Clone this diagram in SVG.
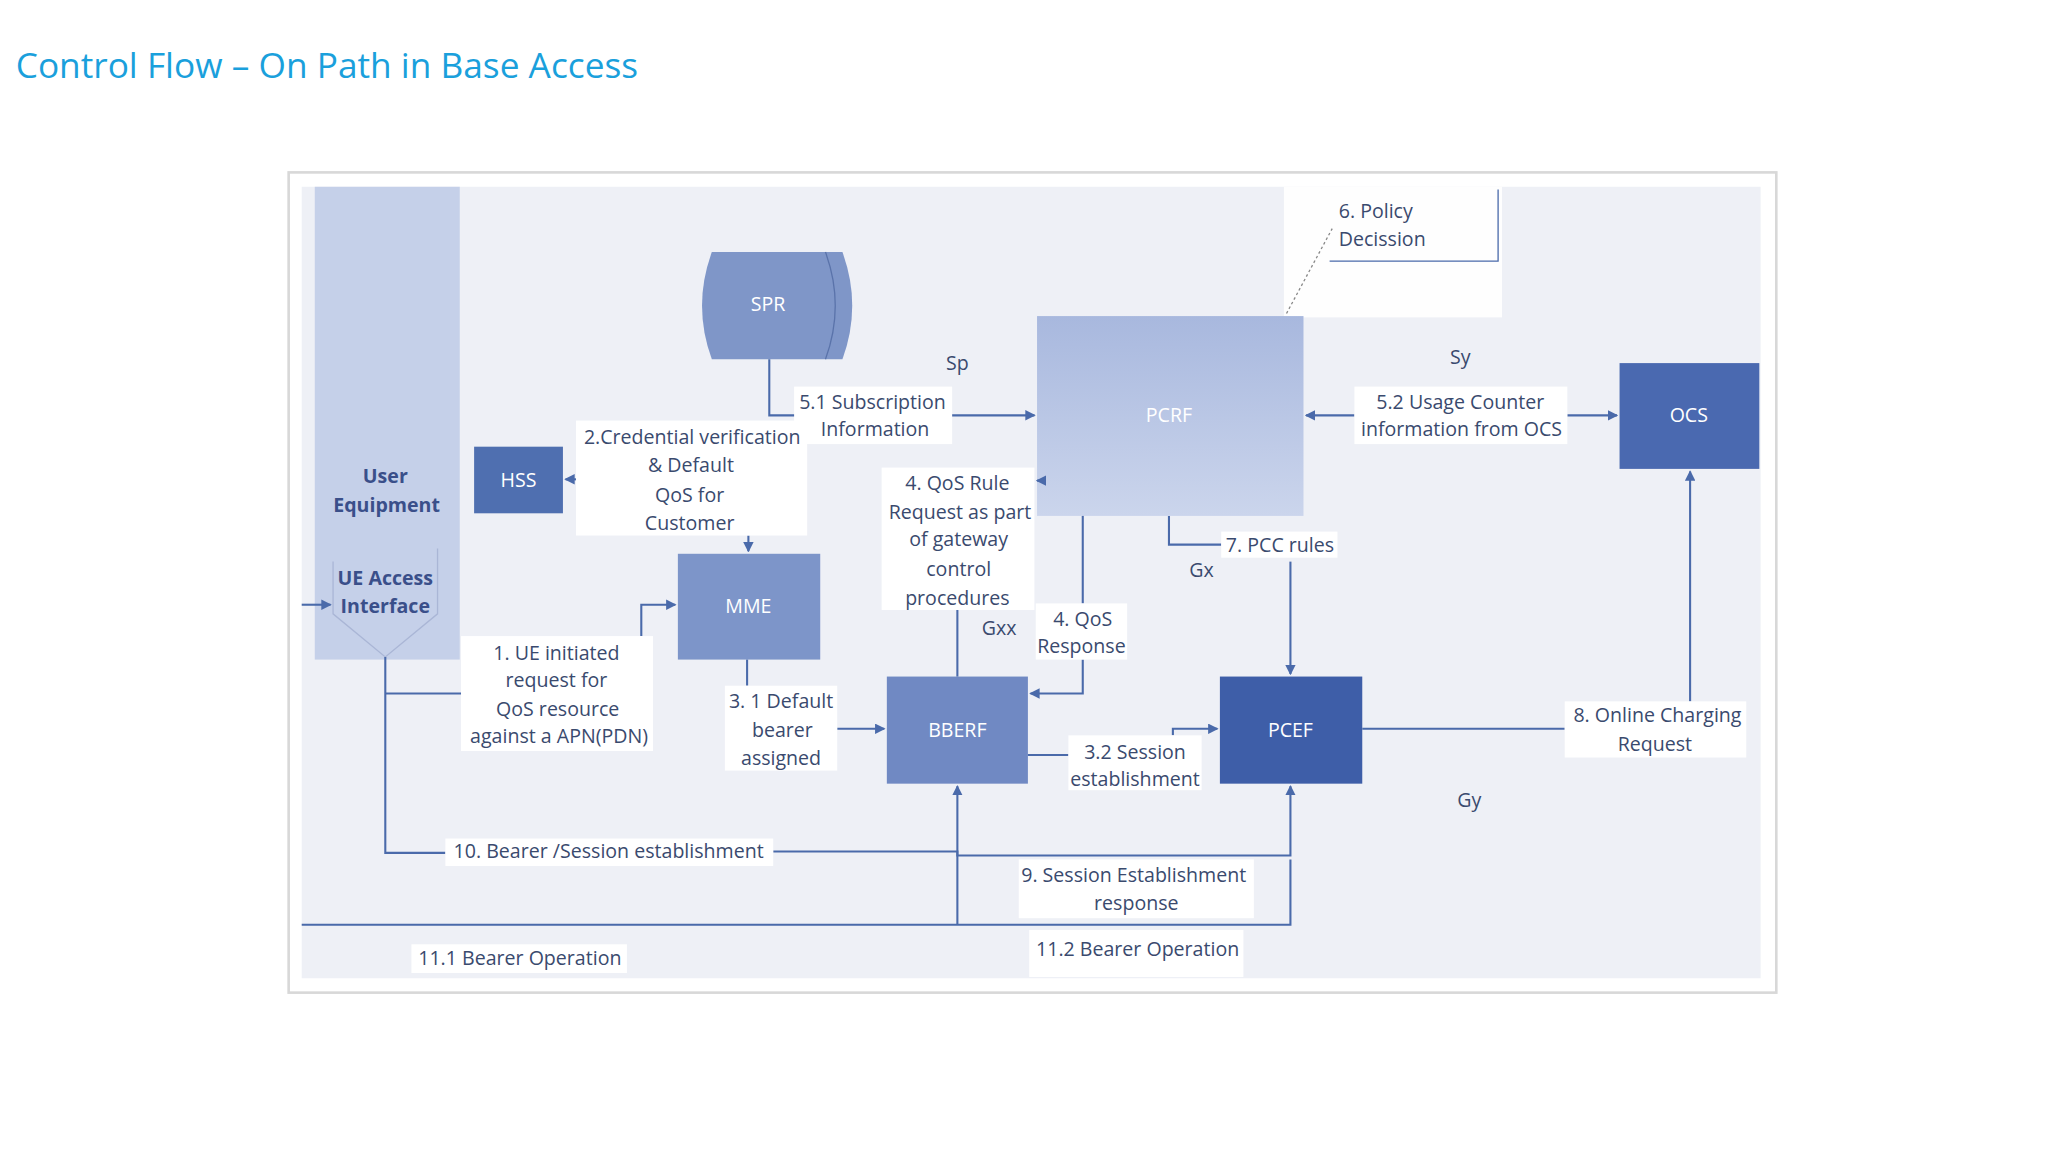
<svg xmlns="http://www.w3.org/2000/svg" width="2048" height="1152" viewBox="0 0 2048 1152">
<style>
text{font-family:"Open Sans","Liberation Sans",sans-serif;font-size:15px;fill:#3a4a6e;text-anchor:middle}
.n{fill:#fff;font-size:15px}
.c{stroke:#4a6aaa;stroke-width:1.6;fill:none}
.lb{fill:#fff}
</style>
<defs>
<marker id="a" markerWidth="8" markerHeight="8" refX="7" refY="4" orient="auto" markerUnits="userSpaceOnUse"><path d="M0,0L8,4L0,8z" fill="#4a6aaa"/></marker>
<linearGradient id="pg" x1="0" y1="0" x2="0" y2="1"><stop offset="0" stop-color="#a8b8de"/><stop offset="1" stop-color="#cbd5ec"/></linearGradient>
</defs>
<rect width="2048" height="1152" fill="#fff"/>
<g transform="scale(1.3061)">
<text x="12" y="60" style="font-size:27px;fill:#1aa0dc;text-anchor:start">Control Flow – On Path  in Base Access</text>
<rect x="221" y="132" width="1139" height="628" fill="#fff" stroke="#d8d8d8" stroke-width="2"/>
<rect x="231" y="143" width="1117" height="606" fill="#eef0f6"/>
<g id="ue"><rect x="241" y="143" width="111" height="362" fill="#c5d0e9"/>
<text x="295" y="370" style="font-weight:bold;fill:#3a4f8a">User</text><text x="296" y="392" style="font-weight:bold;fill:#3a4f8a">Equipment</text>
<path d="M255,430V470L295,503L335,470V420" fill="none" stroke="#aab6d6"/>
<text x="295" y="448" style="font-weight:bold;fill:#3a4f8a">UE Access</text><text x="295" y="469" style="font-weight:bold;fill:#3a4f8a">Interface</text></g>
<g id="policy"><rect x="983" y="143" width="167" height="100" fill="#fff" opacity="0.9"/>
<path d="M1018,200H1147V145" fill="none" stroke="#4a6aaa"/><path d="M985,240L1020,175" stroke="#888" stroke-dasharray="2,2"/>
<text x="1025" y="167" style="text-anchor:start">6. Policy</text><text x="1025" y="188" style="text-anchor:start">Decission</text></g>
<g id="spr"><path d="M545,193H645Q660,234 645,275H545Q530,234 545,193z" fill="#7f96c8"/><path d="M632,193Q647,234 632,275" fill="none" stroke="#5a73aa"/><text class="n" x="588" y="238">SPR</text></g>
<g id="pcrf"><rect x="794" y="242" width="204" height="153" fill="url(#pg)"/><text class="n" x="895" y="323">PCRF</text></g>
<g id="ocs"><rect x="1240" y="278" width="107" height="81" fill="#4a69b0"/><text class="n" x="1293" y="323">OCS</text></g>
<g id="hss"><rect x="363" y="342" width="68" height="51" fill="#4f6fb0"/><text class="n" x="397" y="373">HSS</text></g>
<g id="mme"><rect x="519" y="424" width="109" height="81" fill="#7d95c9"/><text class="n" x="573" y="469">MME</text></g>
<g id="bberf"><rect x="679" y="518" width="108" height="82" fill="#7089c3"/><text class="n" x="733" y="564">BBERF</text></g>
<g id="pcef"><rect x="934" y="518" width="109" height="82" fill="#3e5ea8"/><text class="n" x="988" y="564">PCEF</text></g>
<g id="connectors">
<path class="c" d="M589,275V318H792" marker-end="url(#a)"/>
<path class="c" d="M1200,318H1238" marker-end="url(#a)"/><path class="c" d="M1037,318H1000" marker-end="url(#a)"/>
<path class="c" d="M441,367H433" marker-end="url(#a)"/><path class="c" d="M573,410V422" marker-end="url(#a)"/>
<path class="c" d="M231,463H253" marker-end="url(#a)"/>
<path class="c" d="M295,503V653H341"/><path class="c" d="M295,531H353"/>
<path class="c" d="M491,487V463H517" marker-end="url(#a)"/>
<path class="c" d="M572,505V525"/><path class="c" d="M641,558H677" marker-end="url(#a)"/>
<path class="c" d="M733,518V467"/><path class="c" d="M796,368H794" marker-end="url(#a)"/>
<path class="c" d="M829,395V462"/><path class="c" d="M829,505V531H789" marker-end="url(#a)"/>
<path class="c" d="M895,395V417H935"/><path class="c" d="M988,430V516" marker-end="url(#a)"/>
<path class="c" d="M787,578H818"/><path class="c" d="M898,563V558H932" marker-end="url(#a)"/>
<path class="c" d="M1043,558H1198"/><path class="c" d="M1294,537V361" marker-end="url(#a)"/>
<path class="c" d="M592,652H733V655H988V602" marker-end="url(#a)"/>
<path class="c" d="M231,708H988V658"/><path class="c" d="M733,708V602" marker-end="url(#a)"/>
</g>
<g id="labels">
<rect class="lb" x="608" y="296" width="121" height="44"/><text x="668" y="313">5.1 Subscription</text><text x="670" y="334">Information</text>
<rect class="lb" x="1037" y="296" width="163" height="44"/><text x="1118" y="313">5.2 Usage Counter</text><text x="1119" y="334">information from OCS</text>
<rect class="lb" x="441" y="322" width="177" height="88"/><text x="530" y="340">2.Credential verification</text><text x="529" y="361">&amp; Default</text><text x="528" y="384">QoS for</text><text x="528" y="406">Customer</text>
<rect class="lb" x="675" y="358" width="117" height="109"/><text x="733" y="375">4. QoS Rule</text><text x="735" y="397">Request as part</text><text x="734" y="418">of gateway</text><text x="734" y="441">control</text><text x="733" y="463">procedures</text>
<rect class="lb" x="793" y="462" width="70" height="43"/><text x="829" y="479">4. QoS</text><text x="828" y="500">Response</text>
<rect class="lb" x="353" y="487" width="147" height="88"/><text x="426" y="505">1. UE initiated</text><text x="426" y="526">request for</text><text x="427" y="548">QoS resource</text><text x="428" y="569">against a APN(PDN)</text>
<rect class="lb" x="555" y="525" width="86" height="65"/><text x="598" y="542">3. 1 Default</text><text x="599" y="564">bearer</text><text x="598" y="586">assigned</text>
<rect class="lb" x="818" y="563" width="102" height="42"/><text x="869" y="581">3.2 Session</text><text x="869" y="602">establishment</text>
<rect class="lb" x="1198" y="537" width="139" height="43"/><text x="1269" y="553">8. Online  Charging</text><text x="1267" y="575">Request</text>
<rect class="lb" x="341" y="642" width="251" height="21"/><text x="466" y="657">10. Bearer /Session establishment</text>
<rect class="lb" x="780" y="658" width="180" height="45"/><text x="868" y="675">9. Session Establishment</text><text x="870" y="697">response</text>
<rect class="lb" x="788" y="712" width="164" height="36"/><text x="871" y="732">11.2 Bearer Operation</text>
<rect class="lb" x="315" y="723" width="165" height="22"/><text x="398" y="739">11.1 Bearer Operation</text>
<rect class="lb" x="935" y="407" width="89" height="20"/><text x="980" y="423">7. PCC rules</text>
<text x="733" y="283">Sp</text><text x="1118" y="279">Sy</text><text x="920" y="442">Gx</text><text x="765" y="486">Gxx</text><text x="1125" y="618">Gy</text>
</g>
</g>
</svg>
